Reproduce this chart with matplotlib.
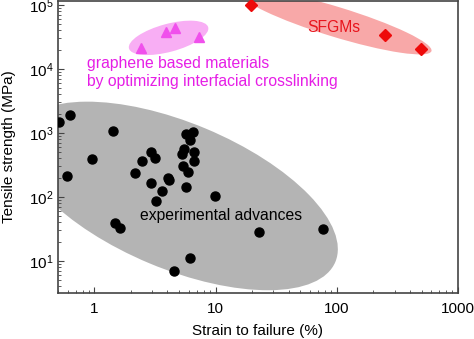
import numpy as np
import matplotlib.pyplot as plt
import matplotlib.transforms as transforms
from matplotlib.patches import Ellipse

# experimental advances
strain_exp = [0.51, 0.63, 1.42, 0.95, 0.59, 2.15, 2.45, 2.92, 3.15, 2.94, 3.6, 4.05, 4.1,
              3.23, 5.72, 6.5, 6.1, 5.44, 5.24, 6.58, 6.62, 5.37, 5.87, 5.65, 9.9,
              1.47, 1.61, 6.1, 4.5, 22.7, 77.6]
strength_exp = [1460, 1930, 1080, 390, 215, 240, 366, 506, 412, 165, 125, 200, 182,
                86, 947, 1047, 773, 558, 468, 501, 366, 302, 243, 141, 102,
                39, 32.7, 11, 6.9, 28.3, 31.2]

# graphene based materials
strain_gbm = [2.43, 3.91, 4.58, 7.28]
strength_gbm = [20850, 38000, 44000, 31800]

# SFGMs
strain_sfgm = [19.7, 252, 492]
strength_sfgm = [100000, 33700, 20300]

x_ticks = [1, 10, 100, 1000]
x_ticklabels = ['1', '10', '100', '1000']


def px_to_data(px, py):
    # position on the 474x339 canvas -> data coords (1 decade = 121 px in x, 64 px in y)
    return 10 ** ((px - 95) / 121), 10 ** (5 - (py - 5) / 64)


def add_ellipse(ax, px, py, w_px, h_px, angle, color):
    cx, cy = px_to_data(px, py)
    tr = transforms.Affine2D().scale(1 / 100.) + ax.figure.dpi_scale_trans + \
        transforms.ScaledTranslation(cx, cy, ax.transData)
    ax.add_patch(Ellipse((0, 0), w_px, h_px, angle=angle, facecolor=color,
                         edgecolor='none', transform=tr, zorder=1))


plt.rcParams['font.family'] = ['Liberation Sans', 'DejaVu Sans']
plt.rcParams['mathtext.fontset'] = 'custom'
plt.rcParams['mathtext.rm'] = 'Liberation Sans'

fig = plt.figure(figsize=(4.74, 3.39), dpi=100)
ax = fig.add_axes([58 / 474, 46 / 339, 400 / 474, 292 / 339])
ax.set_xscale('log')
ax.set_yscale('log')
ax.set_xlim(0.5, 1000)
ax.set_ylim(10 ** 0.5, 10 ** 5.06)

add_ellipse(ax, 178, 196, 342, 146, -22.7, '#b4b4b4')
add_ellipse(ax, 169, 38, 82, 28, 15, '#f8aef4')
add_ellipse(ax, 336, 22, 200, 30, -17, '#f8a8a8')

ax.plot(strain_exp, strength_exp, 'o', color='black', markersize=6.5, zorder=3)
ax.plot(strain_gbm, strength_gbm, '^', color='#f050ec', markersize=6.5, zorder=3)
ax.plot(strain_sfgm, strength_sfgm, 'D', color='#ee0a0a', markersize=6, zorder=3, clip_on=False)

ax.text(*px_to_data(88, 72.5), 'graphene based materials\nby optimizing interfacial crosslinking',
        color='#e61ee6', fontsize=11.3, va='center', ha='left', linespacing=1.22)
ax.text(*px_to_data(334, 28), 'SFGMs', color='#e8141c', fontsize=11.3, va='center', ha='center')
ax.text(*px_to_data(140, 215.5), 'experimental advances', color='black', fontsize=11.3,
        va='center', ha='left')

ax.set_xticks(x_ticks)
ax.set_xticklabels(x_ticklabels)
ax.tick_params(which='both', direction='in', top=False, right=False, labelsize=11, color='#444444')
ax.tick_params(axis='x', pad=6.5)
ax.tick_params(which='major', length=4)
ax.tick_params(which='minor', length=2.5)
for s in ax.spines.values():
    s.set_color('#444444')
    s.set_linewidth(1.2)

ax.set_xlabel('Strain to failure (%)', fontsize=11, labelpad=6)
ax.set_ylabel('Tensile strength (MPa)', fontsize=11, labelpad=9)

fig.savefig('out.png', dpi=100)
